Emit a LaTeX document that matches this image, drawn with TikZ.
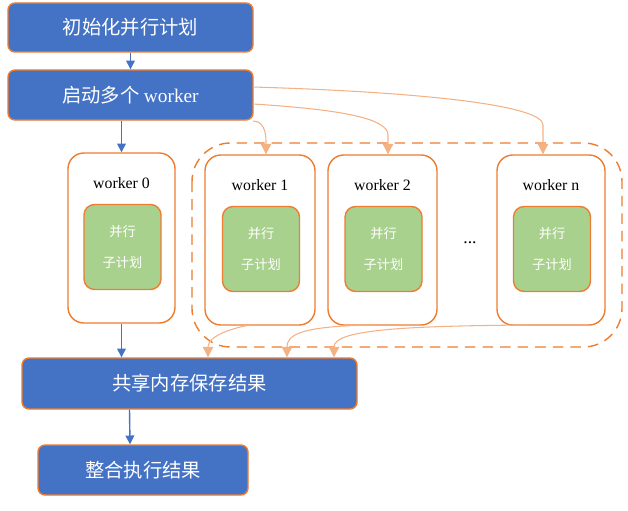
\documentclass[tikz,border=0pt]{standalone}
\usepackage{fontspec}
\setmainfont{Liberation Serif}
\newfontfamily\cjk{Noto Sans CJK SC}
\usetikzlibrary{arrows.meta,calc}
\definecolor{boxblue}{HTML}{4472C4}
\definecolor{boxorange}{HTML}{ED7D31}
\definecolor{boxgreen}{HTML}{A9D18E}
\tikzset{
    stepbox/.style={draw=boxorange, fill=boxblue, thick, rounded corners=4pt, text=white, font=\cjk\fontsize{11}{13}\selectfont},
    worker/.style={draw=boxorange, thick, rounded corners=9pt, fill=white},
    plan/.style={draw=boxorange, thick, rounded corners=6pt, fill=boxgreen},
    flow/.style={-{Triangle[length=5pt,width=5pt]}, boxblue, thick},
    fork/.style={-{Triangle[length=6pt,width=6pt]}, boxorange!60, semithick},
}
\begin{document}
\begin{tikzpicture}[x=0.02cm, y=-0.02cm]
    \useasboundingbox (0,0) rectangle (628,510);
    % outer dashed group
    \draw[boxorange, thick, dash pattern=on 6pt off 4pt, rounded corners=22pt] (192,143) rectangle (622,347);
    % main steps
    \node[stepbox, minimum width=245*0.02cm, minimum height=49*0.02cm] (init) at (130.5,27.5) {初始化并行计划};
    \node[stepbox, minimum width=245*0.02cm, minimum height=50*0.02cm] (start) at (130.5,95) {启动多个 {\rmfamily worker}};
    \node[stepbox, minimum width=335*0.02cm, minimum height=51*0.02cm] (shared) at (189.5,383.5) {共享内存保存结果};
    \node[stepbox, minimum width=210*0.02cm, minimum height=50*0.02cm] (merge) at (143,470) {整合执行结果};
    % workers
    \foreach \name/\xl/\xr/\yt/\lbl in {w0/68/175/153/0, w1/205/315/155/1, w2/328/437/155/2, wn/497/605/155/n} {
        \node[worker, minimum width={(\xr-\xl)*0.02cm}, minimum height=170*0.02cm] (\name) at ({(\xl+\xr)/2},{\yt+85}) {};
        \node[font=\fontsize{9}{11}\selectfont] (\name t) at ({(\xl+\xr)/2},{\yt+30}) {worker \lbl};
        \node[plan, minimum width=77*0.02cm, minimum height=85*0.02cm, text=white, align=center,
              font=\cjk\fontsize{7.5}{18}\selectfont] (\name p) at ({(\xl+\xr)/2+1},{\yt+94}) {并行\\子计划};
    }
    \node[font=\fontsize{10}{12}\selectfont] (dots) at (470,243) {...};
    % blue flow
    \draw[flow] (init) -- (start);
    \draw[flow] (start.south -| w0) -- (w0);
    \draw[flow] (w0) -- (shared.north -| w0);
    \draw[flow] ($(shared.south)+(-60,0)$) -- ($(merge.north)+(-13,0)$);
    % orange forks
    \coordinate (s1) at (253,121);
    \coordinate (s2) at (253,104);
    \coordinate (s3) at (253,87);
    \draw[fork] (s1) to[out=0,in=90] ($(w1.north)+(6,0)$);
    \draw[fork] (s2) .. controls (350,110) and (388,120) .. (388,135) -- ($(w2.north)+(5.5,0)$);
    \draw[fork] (s3) .. controls (420,92) and (543,105) .. (543,125) -- ($(wn.north)+(-8,0)$);
    \coordinate (b1) at (250,325);
    \coordinate (b2) at (374,325);
    \coordinate (b3) at (528,325);
    \draw[fork] (b1) to[out=190,in=90] ($(shared.north)+(18.5,0)$);
    \draw[fork] (b2) .. controls (300,326) and (287,335) .. ($(shared.north)+(97.5,0)$);
    \draw[fork] (b3) .. controls (400,326) and (334,330) .. ($(shared.north)+(144.5,0)$);
\end{tikzpicture}
\end{document}
